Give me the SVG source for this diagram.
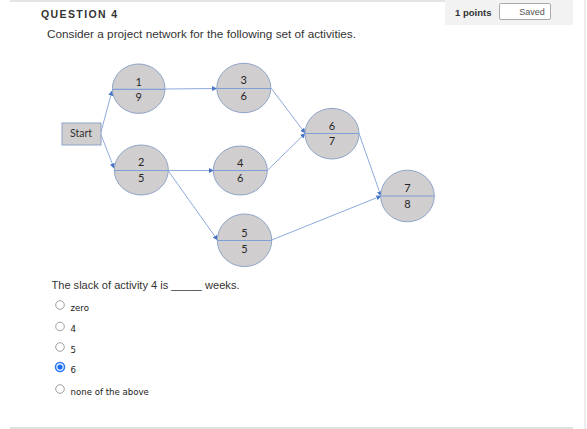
<svg xmlns="http://www.w3.org/2000/svg" width="587" height="429" viewBox="0 0 587 429">
<style>
.node ellipse{fill:#d0cece;stroke:#8ea4c8;stroke-width:1}
.node line{stroke:#7f9fd8;stroke-width:1.2}
.num{font-family:Lato,"Open Sans",sans-serif;font-size:11px;fill:#262626;text-anchor:middle}
.edge{stroke:#8faadc;stroke-width:1;fill:none;marker-end:url(#arr)}
.ui{font-family:"Liberation Sans",Arial,sans-serif;fill:#333}
.opt{font-family:"DejaVu Sans",Verdana,sans-serif;font-size:8.6px;fill:#222}
.radio{fill:#fff;stroke:#888;stroke-width:0.8}
</style>
<defs>
<marker id="arr" viewBox="0 0 6 6" refX="5.5" refY="3" markerWidth="5" markerHeight="5" orient="auto" markerUnits="userSpaceOnUse">
<path d="M0,0 L6,3 L0,6 z" fill="#4472c4"/>
</marker>
</defs>
<rect width="587" height="429" fill="#fff"/>
<line x1="10" y1="1" x2="573" y2="1" stroke="#ddd" stroke-width="1.5"/>
<line x1="585" y1="0" x2="585" y2="429" stroke="#e6e6e6" stroke-width="1.5"/>
<rect x="445" y="0" width="128" height="25" fill="#f2f2f2"/>
<text class="ui" x="41" y="18" font-size="10.5" font-weight="bold" letter-spacing="1.4">QUESTION 4</text>
<text class="ui" x="455" y="16" font-size="9.5" font-weight="bold">1 points</text>
<rect x="499.5" y="3.5" width="51" height="16" rx="1.5" fill="#fff" stroke="#aaa" stroke-width="1"/>
<text class="ui" x="532" y="15" font-size="9" text-anchor="middle" style="fill:#555">Saved</text>
<text class="ui" x="47" y="38" font-size="11" textLength="309" lengthAdjust="spacingAndGlyphs">Consider a project network for the following set of activities.</text>

<g id="connectors">
<path class="edge" d="M100.7,133 L112,91"/>
<path class="edge" d="M100.7,134 L114,168"/>
<path class="edge" d="M165,89 L216.7,88.5"/>
<path class="edge" d="M168,170.5 L213.5,170.5"/>
<path class="edge" d="M168,170.5 L217.5,240"/>
<path class="edge" d="M271,88 L305,133"/>
<path class="edge" d="M267.3,170.5 L305,133.5"/>
<path class="edge" d="M359,133.5 L381,196"/>
<path class="edge" d="M271.7,240 L381,196"/>
</g>

<g id="start">
<rect x="62" y="123" width="39" height="22" fill="#d0cece" stroke="#8ea4c8" stroke-width="1"/>
<text x="81" y="137" font-family="Lato,'Open Sans',sans-serif" font-size="10.5" fill="#333" text-anchor="middle">Start</text>
</g>
<g id="n1" class="node">
<ellipse cx="138.7" cy="88.7" rx="26.3" ry="24.7"/>
<line x1="112.4" y1="89.3" x2="165" y2="89.3"/>
<text class="num" x="138.7" y="85.5">1</text>
<text class="num" x="138.7" y="100.5">9</text>
</g>
<g id="n3" class="node">
<ellipse cx="243.8" cy="88" rx="27" ry="24.7"/>
<line x1="216.8" y1="88.5" x2="270.8" y2="88.5"/>
<text class="num" x="243.8" y="84">3</text>
<text class="num" x="243.8" y="99.5">6</text>
</g>
<g id="n2" class="node">
<ellipse cx="141.3" cy="170" rx="27" ry="25"/>
<line x1="114.3" y1="170.5" x2="168.3" y2="170.5"/>
<text class="num" x="141.3" y="166">2</text>
<text class="num" x="141.3" y="181.5">5</text>
</g>
<g id="n4" class="node">
<ellipse cx="240.3" cy="170.5" rx="27" ry="24.5"/>
<line x1="213.3" y1="170.5" x2="267.3" y2="170.5"/>
<text class="num" x="240.3" y="166.5">4</text>
<text class="num" x="240.3" y="182">6</text>
</g>
<g id="n6" class="node">
<ellipse cx="332" cy="133.7" rx="27" ry="25.3"/>
<line x1="305" y1="133.5" x2="359" y2="133.5"/>
<text class="num" x="332" y="129.5">6</text>
<text class="num" x="332" y="145">7</text>
</g>
<g id="n7" class="node">
<ellipse cx="407.5" cy="196" rx="26.8" ry="25.8"/>
<line x1="380.7" y1="196" x2="434.3" y2="196"/>
<text class="num" x="407.5" y="192">7</text>
<text class="num" x="407.5" y="207.5">8</text>
</g>
<g id="n5" class="node">
<ellipse cx="244.5" cy="240.3" rx="27.2" ry="26.3"/>
<line x1="217.3" y1="240.5" x2="271.7" y2="240.5"/>
<text class="num" x="244.5" y="236.5">5</text>
<text class="num" x="244.5" y="252.5">5</text>
</g>

<text class="ui" x="51.5" y="289" font-size="11" textLength="188" lengthAdjust="spacingAndGlyphs">The slack of activity 4 is _____ weeks.</text>

<circle class="radio" cx="60" cy="305" r="4.3"/>
<text class="opt" x="70.5" y="310.5">zero</text>
<circle class="radio" cx="60" cy="326.5" r="4.3"/>
<text class="opt" x="70.5" y="332">4</text>
<circle class="radio" cx="60" cy="347" r="4.3"/>
<text class="opt" x="70.5" y="352.5">5</text>
<circle cx="60" cy="367" r="4.5" fill="#fff" stroke="#2f7bf5" stroke-width="1.6"/>
<circle cx="60" cy="367" r="2.6" fill="#1a6ef5"/>
<text class="opt" x="70.5" y="373">6</text>
<circle class="radio" cx="60" cy="389" r="4.3"/>
<text class="opt" x="70.5" y="394.5">none of the above</text>

<line x1="10" y1="428" x2="573" y2="428" stroke="#d6d6d6" stroke-width="1.5"/>
</svg>
